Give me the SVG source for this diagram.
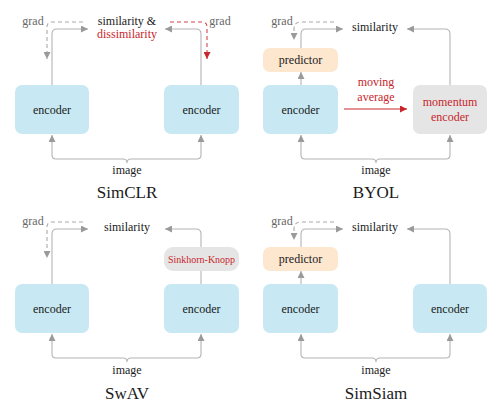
<svg xmlns="http://www.w3.org/2000/svg" width="503" height="412" viewBox="0 0 503 412" font-family="'Liberation Serif','Times New Roman',serif">
<defs>
<style>
text{font-family:"Liberation Serif","Times New Roman",serif;text-anchor:middle;fill:#1a1a1a}
.lbl{font-size:12px}
.title{font-size:17px}
.red{fill:#c8262c}
.grad{font-size:12px;fill:#666}
.sk{font-size:10px;fill:#c8262c}
.enc{fill:#c8e9f3}
.pred{fill:#fde7cf}
.gbox{fill:#e5e5e5}
.ln{fill:none;stroke:#b4b4b4;stroke-width:1.1}
.dash{fill:none;stroke:#aaaaaa;stroke-width:1.1;stroke-dasharray:4 3}
.rdash{fill:none;stroke:#d0474c;stroke-width:1.1;stroke-dasharray:4 3}
.rln{fill:none;stroke:#c8262c;stroke-width:1.1}
</style>
<marker id="ah" viewBox="0 0 10 10" refX="10" refY="5" markerWidth="7" markerHeight="7" markerUnits="userSpaceOnUse" orient="auto-start-reverse"><path d="M0,0 L10,5 L0,10 z" fill="#9a9a9a"/></marker>
<marker id="ahr" viewBox="0 0 10 10" refX="10" refY="5" markerWidth="7" markerHeight="7" markerUnits="userSpaceOnUse" orient="auto"><path d="M0,0 L10,5 L0,10 z" fill="#c8262c"/></marker>
</defs>

<g id="connectors">
<!-- SimCLR -->
<path class="ln" d="M52,85 V34 Q52,29 57,29 H88" marker-end="url(#ah)"/>
<path class="ln" d="M201,85 V34 Q201,29 196,29 H165" marker-end="url(#ah)"/>
<path class="ln" d="M52,135 V155 Q52,159 56,159 H123 Q127,159 127,163 Q127,159 131,159 H197 Q201,159 201,155 V135" marker-start="url(#ah)" marker-end="url(#ah)"/>
<path class="dash" d="M83,22 H52 Q47,22 47,27 V59" marker-end="url(#ah)"/>
<path class="rdash" d="M170,22 H202 Q207,22 207,27 V59" marker-end="url(#ahr)"/>
<!-- BYOL -->
<path class="ln" d="M301,48 V34 Q301,29 306,29 H343" marker-end="url(#ah)"/>
<path class="ln" d="M301,85 V72" marker-end="url(#ah)"/>
<path class="ln" d="M450,85 V34 Q450,29 445,29 H407" marker-end="url(#ah)"/>
<path class="ln" d="M301,135 V155 Q301,159 305,159 H372 Q376,159 376,163 Q376,159 380,159 H446 Q450,159 450,155 V135" marker-start="url(#ah)" marker-end="url(#ah)"/>
<path class="dash" d="M334,22 H301 Q294,22 294,29 V40" marker-end="url(#ah)"/>
<path class="rln" d="M344,109 H407" marker-end="url(#ahr)"/>
<!-- SwAV -->
<path class="ln" d="M52,284 V234 Q52,229 57,229 H88" marker-end="url(#ah)"/>
<path class="ln" d="M201,247 V234 Q201,229 196,229 H165" marker-end="url(#ah)"/>
<path class="ln" d="M201,284 V271"/>
<path class="ln" d="M52,334 V354 Q52,358 56,358 H123 Q127,358 127,362 Q127,358 131,358 H197 Q201,358 201,354 V334" marker-start="url(#ah)" marker-end="url(#ah)"/>
<path class="dash" d="M83,222 H52 Q47,222 47,227 V258" marker-end="url(#ah)"/>
<!-- SimSiam -->
<path class="ln" d="M301,247 V234 Q301,229 306,229 H343" marker-end="url(#ah)"/>
<path class="ln" d="M301,284 V271" marker-end="url(#ah)"/>
<path class="ln" d="M450,284 V234 Q450,229 445,229 H407" marker-end="url(#ah)"/>
<path class="ln" d="M301,334 V354 Q301,358 305,358 H372 Q376,358 376,362 Q376,358 380,358 H446 Q450,358 450,354 V334" marker-start="url(#ah)" marker-end="url(#ah)"/>
<path class="dash" d="M334,222 H301 Q294,222 294,229 V240" marker-end="url(#ah)"/>
</g>

<!-- SimCLR -->
<g id="simclr-enc1"><rect class="enc" x="15" y="85" width="74" height="49" rx="7"/><text class="lbl" x="52" y="113.5">encoder</text></g>
<g id="simclr-enc2"><rect class="enc" x="164" y="85" width="75" height="49" rx="7"/><text class="lbl" x="201.5" y="113.5">encoder</text></g>
<g id="simclr-sim"><text class="lbl" x="127" y="24.5">similarity &amp;</text><text class="lbl red" x="127" y="37.5">dissimilarity</text></g>
<g id="simclr-grad1"><text class="grad" x="33" y="25">grad</text></g>
<g id="simclr-grad2"><text class="grad red" x="220" y="25">grad</text></g>
<g id="simclr-image"><text class="lbl" x="127" y="174">image</text></g>
<g id="simclr-title"><text class="title" x="127" y="198">SimCLR</text></g>

<!-- BYOL -->
<g id="byol-pred"><rect class="pred" x="263" y="48" width="75" height="24" rx="7"/><text class="lbl" x="300.5" y="64">predictor</text></g>
<g id="byol-enc"><rect class="enc" x="263" y="85" width="75" height="49" rx="7"/><text class="lbl" x="300.5" y="113.5">encoder</text></g>
<g id="byol-menc"><rect class="gbox" x="413" y="85" width="74" height="49" rx="7"/><text class="lbl red" x="450" y="106">momentum</text><text class="lbl red" x="450" y="121">encoder</text></g>
<g id="byol-ma"><text class="lbl red" x="376" y="86">moving</text><text class="lbl red" x="376" y="101">average</text></g>
<g id="byol-sim"><text class="lbl" x="375" y="31">similarity</text></g>
<g id="byol-grad"><text class="grad" x="282" y="25">grad</text></g>
<g id="byol-image"><text class="lbl" x="376" y="174">image</text></g>
<g id="byol-title"><text class="title" x="376" y="198">BYOL</text></g>

<!-- SwAV -->
<g id="swav-enc1"><rect class="enc" x="15" y="284" width="74" height="49" rx="7"/><text class="lbl" x="52" y="312.5">encoder</text></g>
<g id="swav-enc2"><rect class="enc" x="164" y="284" width="75" height="49" rx="7"/><text class="lbl" x="201.5" y="312.5">encoder</text></g>
<g id="swav-sk"><rect class="gbox" x="164" y="247" width="75" height="24" rx="9"/><text class="sk" x="201.5" y="262.5">Sinkhorn-Knopp</text></g>
<g id="swav-sim"><text class="lbl" x="127" y="231">similarity</text></g>
<g id="swav-grad"><text class="grad" x="33" y="225">grad</text></g>
<g id="swav-image"><text class="lbl" x="127" y="374">image</text></g>
<g id="swav-title"><text class="title" x="127" y="399">SwAV</text></g>

<!-- SimSiam -->
<g id="simsiam-pred"><rect class="pred" x="263" y="247" width="75" height="24" rx="7"/><text class="lbl" x="300.5" y="263">predictor</text></g>
<g id="simsiam-enc1"><rect class="enc" x="263" y="284" width="75" height="49" rx="7"/><text class="lbl" x="300.5" y="312.5">encoder</text></g>
<g id="simsiam-enc2"><rect class="enc" x="413" y="284" width="74" height="49" rx="7"/><text class="lbl" x="450" y="312.5">encoder</text></g>
<g id="simsiam-sim"><text class="lbl" x="375" y="231">similarity</text></g>
<g id="simsiam-grad"><text class="grad" x="282" y="225">grad</text></g>
<g id="simsiam-image"><text class="lbl" x="376" y="374">image</text></g>
<g id="simsiam-title"><text class="title" x="376" y="399">SimSiam</text></g>
</svg>
